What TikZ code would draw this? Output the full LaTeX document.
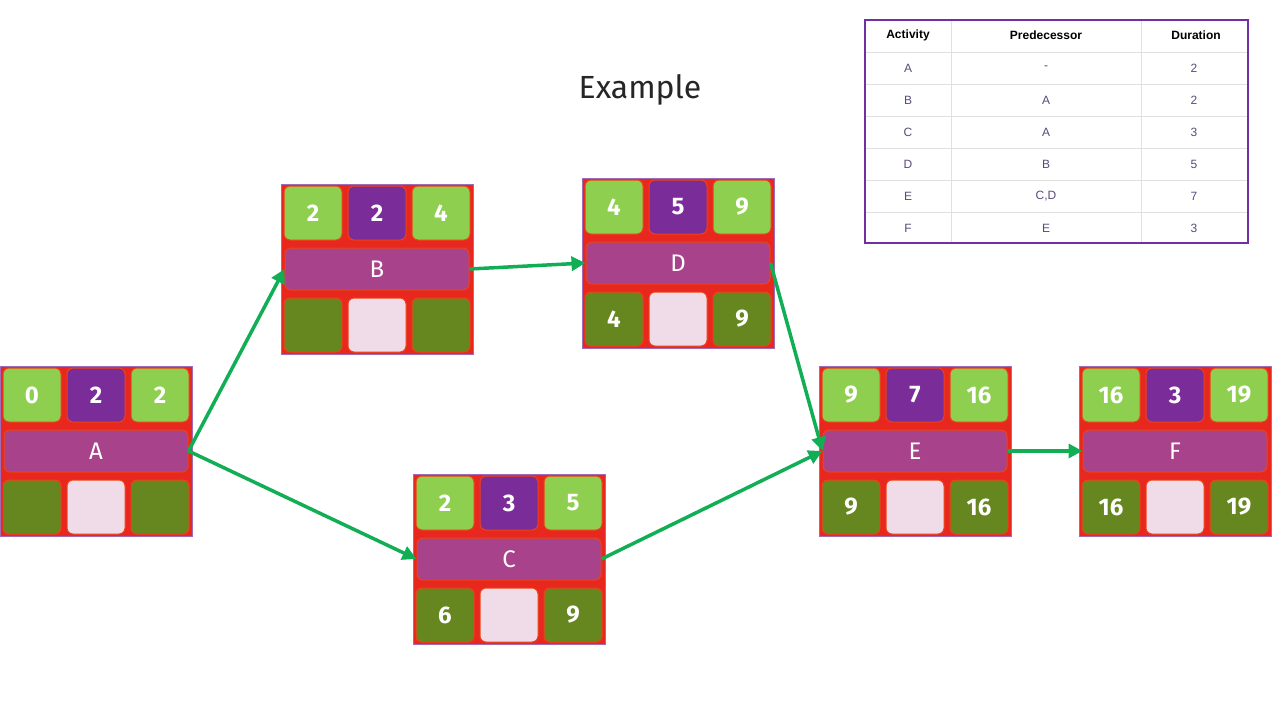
\documentclass[tikz,border=0pt]{standalone}
\usepackage{fontspec}
\setmainfont{Fira Sans}
\newfontfamily\tabfont{Liberation Sans}
\usetikzlibrary{arrows.meta}
\definecolor{lgreen}{HTML}{8FCF4F}
\definecolor{dpurple}{HTML}{7A2C99}
\definecolor{magbar}{HTML}{A8428A}
\definecolor{olive}{HTML}{66861F}
\definecolor{pale}{HTML}{EFDCE8}
\definecolor{bgred}{HTML}{E8271F}
\definecolor{arrgreen}{HTML}{12AE55}
\definecolor{tabtxt}{HTML}{5A4A7A}
\definecolor{tabline}{HTML}{7030A0}
\tikzset{
 outer/.style={draw=dpurple!70, line width=0.8pt, fill=bgred, minimum width=192pt, minimum height=170pt, inner sep=0pt},
 cell/.style={rounded corners=6pt, minimum width=58pt, minimum height=54pt, inner sep=0pt, text=white, font=\fontsize{24}{28}\selectfont\bfseries, draw=bgred!70!orange, line width=1pt},
 bar/.style={rounded corners=6pt, minimum width=184pt, minimum height=42pt, inner sep=0pt, fill=magbar, text=white, font=\fontsize{24}{28}\selectfont, draw=bgred!70!orange, line width=1pt},
 conn/.style={arrgreen, line width=3.5pt, -{Triangle[length=14pt,width=14pt]}},
 th/.style={font=\tabfont\fontsize{12}{14}\selectfont\bfseries, text=black},
 td/.style={font=\tabfont\fontsize{12}{14}\selectfont, text=tabtxt}
}
\newcommand\actbox[9]{%
 \node[outer,anchor=north west] (#1) at (#2,#3) {};
 \node[cell,fill=lgreen] (#1-es) at (#2+32,#3+29) {#4};
 \node[cell,fill=dpurple] (#1-du) at (#2+96,#3+29) {#5};
 \node[cell,fill=lgreen] (#1-ef) at (#2+160,#3+29) {#6};
 \node[bar] (#1-bar) at (#2+96,#3+85) {#7};
 \node[cell,fill=olive] (#1-ls) at (#2+32,#3+141) {#8};
 \node[cell,fill=pale] (#1-fl) at (#2+96,#3+141) {};
 \node[cell,fill=olive] (#1-lf) at (#2+160,#3+141) {#9};
}
\begin{document}
\begin{tikzpicture}[x=1pt,y=-1pt]
\useasboundingbox[fill=white] (0,0) rectangle (1280,720);
\node[font=\fontsize{32}{38}\selectfont\addfontfeature{FakeBold=0}, text=black!85] (title) at (640,90) {Example};
\actbox{A}{0}{366}{0}{2}{2}{A}{}{}
\actbox{B}{281}{184}{2}{2}{4}{B}{}{}
\actbox{D}{582}{178}{4}{5}{9}{D}{4}{9}
\actbox{C}{413}{474}{2}{3}{5}{C}{6}{9}
\actbox{E}{819}{366}{9}{7}{16}{E}{9}{16}
\actbox{F}{1079}{366}{16}{3}{19}{F}{16}{19}
\draw[conn] (A-bar.east) -- (B-bar.west);
\draw[conn] (A-bar.east) -- (C-bar.west);
\draw[conn] (B-bar.east) -- (D-bar.west);
\draw[conn] (D-bar.east) -- (E-bar.west);
\draw[conn] (C-bar.east) -- (E-bar.west);
\draw[conn] (E-bar.east) -- (F-bar.west);
% table
\foreach \y in {52,84,116,148,180,212} \draw[black!12, line width=0.8pt] (866,\y) -- (1247,\y);
\foreach \x in {951,1141} \draw[black!12, line width=0.8pt] (\x,21) -- (\x,242);
\draw[tabline, line width=1.6pt] (865,20) rectangle (1248,243);
\node[th] (h1) at (908,35) {Activity};
\node[th] (h2) at (1046,35) {Predecessor};
\node[th] (h3) at (1196,35) {Duration};
\foreach \a/\p/\d [count=\i] in {A/-/2,B/A/2,C/A/3,D/B/5,E/{C,D}/7,F/E/3} {
 \node[td] (ta\i) at (908,36+32*\i) {\a};
 \node[td] (tp\i) at (1046,36+32*\i) {\p};
 \node[td] (td\i) at (1194,36+32*\i) {\d};
}
\end{tikzpicture}
\end{document}
